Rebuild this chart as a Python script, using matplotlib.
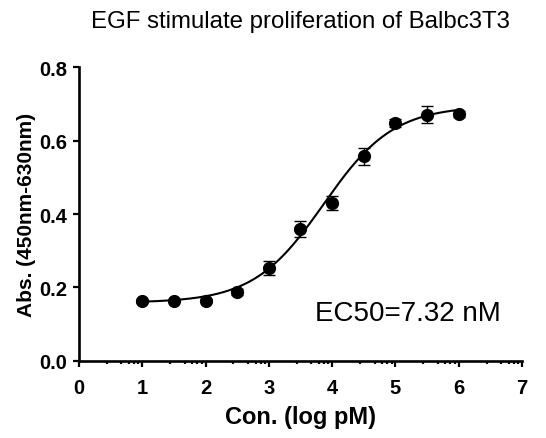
import numpy as np
import matplotlib
matplotlib.use("Agg")
import matplotlib.pyplot as plt
from matplotlib.ticker import FixedLocator

plt.rcParams["font.family"] = ["Liberation Sans", "DejaVu Sans"]

# ── data ─────────────────────────────────────────────────────────────────────
log_conc = [1.0, 1.5, 2.0, 2.5, 3.0, 3.5, 4.0, 4.5, 5.0, 5.5, 6.0]
absorb   = [0.162, 0.164, 0.164, 0.188, 0.253, 0.359, 0.430, 0.557, 0.648, 0.671, 0.673]
sem      = [0.005, 0.005, 0.005, 0.008, 0.018, 0.023, 0.019, 0.024, 0.010, 0.024, 0.008]

# four-parameter logistic fit shown as the curve
fit_bottom = 0.158
fit_top    = 0.695
fit_logec  = 3.864       # 7.32 nM = 7320 pM
fit_hill   = 0.785

x_ticks  = [0, 1, 2, 3, 4, 5, 6, 7]
y_ticks  = [0.0, 0.2, 0.4, 0.6, 0.8]
ec50_txt = "EC50=7.32 nM"

# ── figure ───────────────────────────────────────────────────────────────────
fig = plt.figure(figsize=(5.46, 4.39), dpi=100)
ax = fig.add_axes([0.1447, 0.176, 0.8113, 0.6684])

xf = np.linspace(log_conc[0], log_conc[-1], 300)
yf = fit_bottom + (fit_top - fit_bottom) / (1 + 10 ** ((fit_logec - xf) * fit_hill))
ax.plot(xf, yf, color="black", lw=1.5, zorder=2)

ax.errorbar(log_conc, absorb, yerr=sem, fmt="o", color="black", ms=8.5,
            elinewidth=1.0, capsize=4.5, capthick=1.0, zorder=3, clip_on=False)

ax.set_xlim(0, 7)
ax.set_ylim(0, 0.8)
ax.set_xticks(x_ticks)
ax.set_yticks(y_ticks)
ax.set_yticklabels([f"{v:.1f}" for v in y_ticks])

minor_frac = [0.44, 0.67, 0.79, 0.87, 0.94]
ax.xaxis.set_minor_locator(FixedLocator([d + f for d in x_ticks[:-1] for f in minor_frac]))

for side in ["top", "right"]:
    ax.spines[side].set_visible(False)
for side in ["left", "bottom"]:
    ax.spines[side].set_linewidth(1.9)

ax.tick_params(axis="both", which="major", direction="out", length=4.5, width=1.6,
               labelsize=14.5, pad=4)
ax.tick_params(axis="x", which="major", pad=8)
ax.tick_params(axis="x", which="minor", direction="out", length=2.5, width=1.6)
for lab in ax.get_xticklabels() + ax.get_yticklabels():
    lab.set_fontweight("bold")

ax.set_xlabel("Con. (log pM)", fontsize=17, fontweight="bold", labelpad=6)
ax.set_ylabel("Abs. (450nm-630nm)", fontsize=15, fontweight="bold", labelpad=2)

fig.text(0.5504, 0.95, "EGF stimulate proliferation of Balbc3T3", ha="center", va="center",
         fontsize=17.3)
ax.text(5.2, 0.13, ec50_txt, ha="center", va="center", fontsize=20)

fig.savefig("out.png", dpi=100)
